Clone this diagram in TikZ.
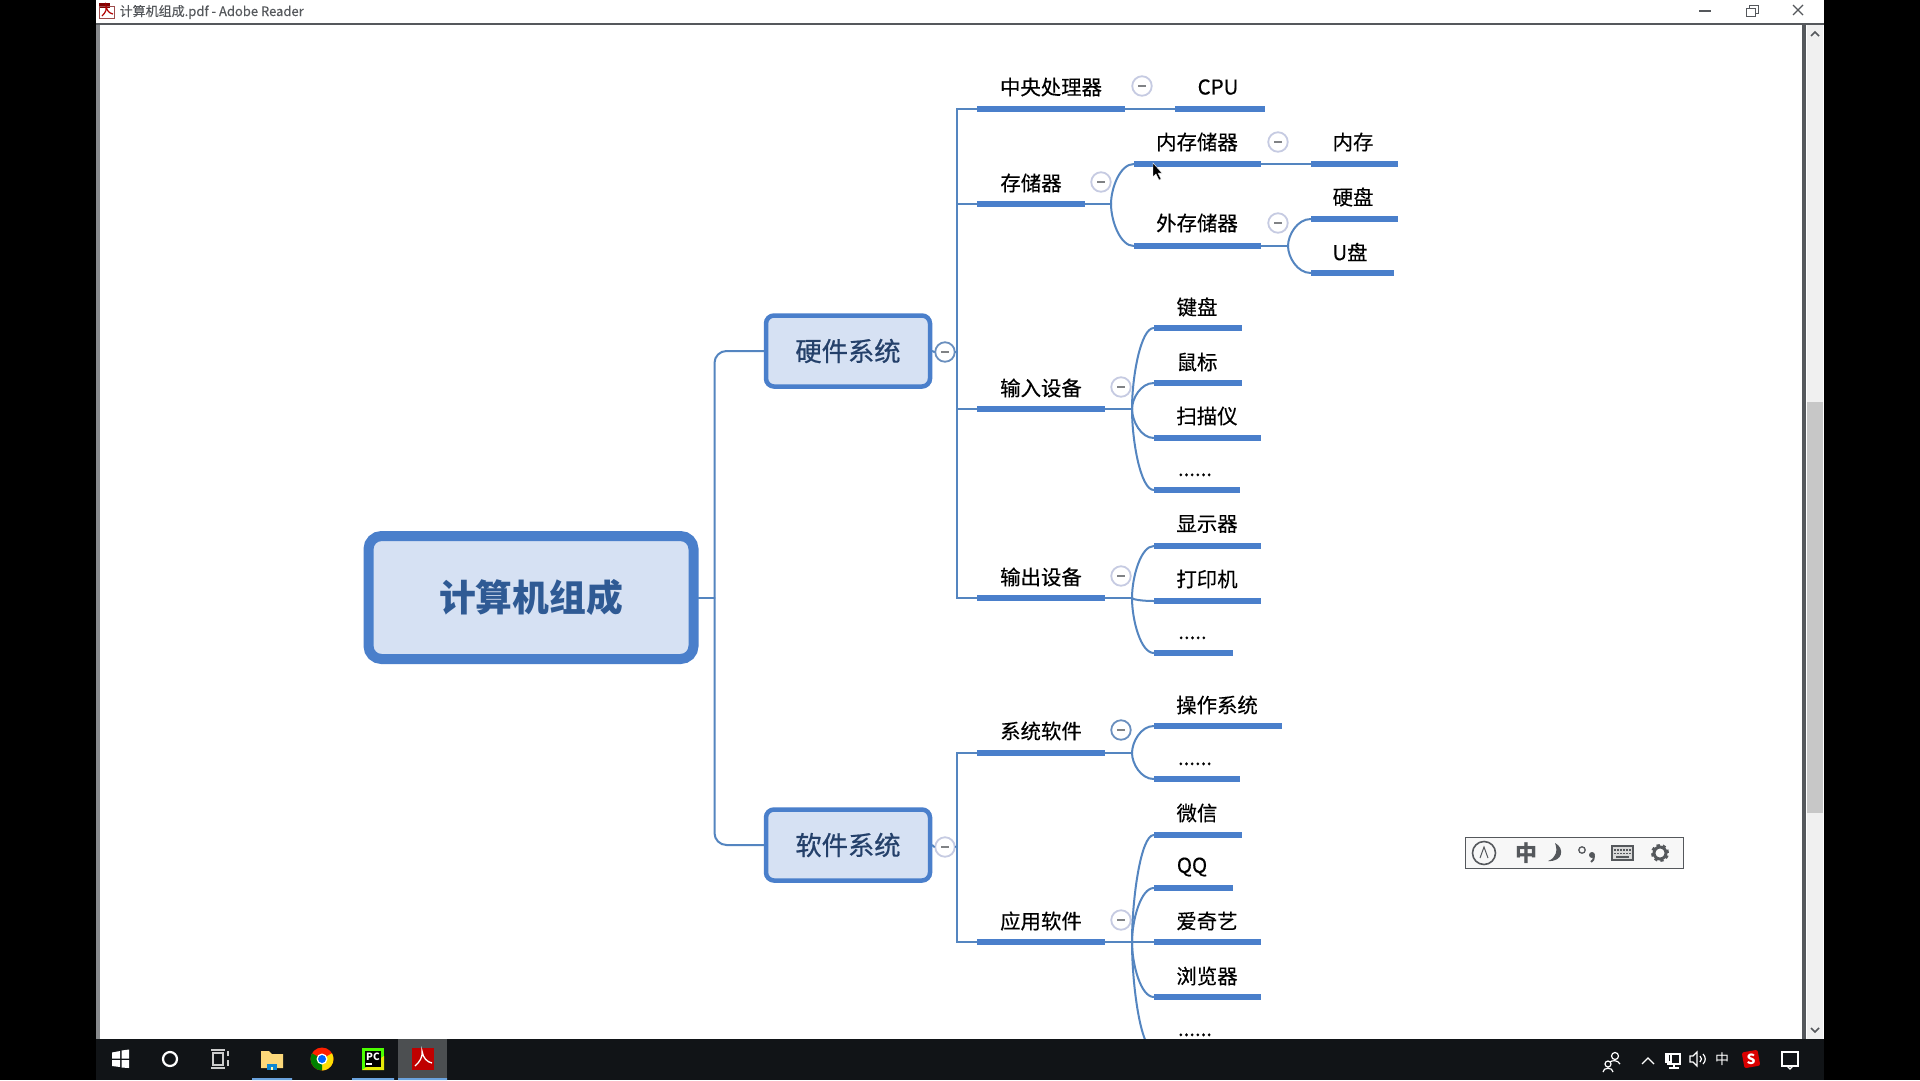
\documentclass[tikz,border=0pt]{standalone}
\usepackage{fontspec}
\usepackage{xcolor}
\setmainfont{Noto Sans CJK SC}
\newfontfamily\labfont[FakeBold=0.3]{Noto Sans CJK SC}
\newfontfamily\boxfont[FakeBold=0.7]{Noto Sans CJK SC}
\usetikzlibrary{calc}
\definecolor{frame}{HTML}{000000}
\definecolor{pagebg}{HTML}{FFFFFF}
\definecolor{barbg}{HTML}{111417}
\definecolor{topic}{HTML}{4A7FCB}
\definecolor{linkc}{HTML}{5485C0}
\definecolor{boxbg}{HTML}{D6E1F3}
\definecolor{hubtxt}{HTML}{2F5A94}
\definecolor{boxtxt}{HTML}{24406A}
\definecolor{faint}{HTML}{C6CBE2}
\definecolor{strong}{HTML}{6A8FBE}
\definecolor{muted}{HTML}{55585C}
\tikzset{
  link/.style={draw=linkc, line width=2pt, line cap=round},
  bar/.style={rectangle, fill=topic, inner sep=0pt, minimum height=6.5pt},
  lab/.style={text=black, font=\labfont\fontsize{20.4}{24}\selectfont, inner sep=0pt},
  hub/.style={draw=topic, fill=boxbg, line width=10pt, rounded corners=13pt, inner sep=0pt,
    text=hubtxt, font=\fontsize{36.8}{42}\bfseries\selectfont},
  sub/.style={draw=topic, fill=boxbg, line width=4.5pt, rounded corners=8pt, inner sep=0pt,
    text=boxtxt, font=\boxfont\fontsize{26.3}{30}\selectfont, minimum width=164pt, minimum height=71pt},
  minus/.style={circle, draw=faint, fill=white, line width=1.8pt, minimum size=19.5pt, inner sep=0pt,
    path picture={\draw[muted!75, line width=1.5pt] ($(path picture bounding box.center)+(-4,0)$) -- +(8,0);}},
  chrome/.style={draw=muted, line width=1.3pt},
  tray/.style={draw=white, line width=1.2pt},
  icon/.style={text=muted, inner sep=0pt},
}
\begin{document}
\begin{tikzpicture}[x=1pt, y=-1pt]
  \useasboundingbox (0,0) rectangle (1920,1080);
  \fill[frame] (0,0) rectangle (1920,1080);
  \fill[pagebg] (96,0) rectangle (1824,1080);
  % window title and scroll bar
  \fill[muted!70] (96,24) rectangle (100,1040);
  \fill[muted] (96,23) rectangle (1824,25);
  \fill[muted] (1802,25) rectangle (1806,1040);
  \fill[black!6] (1807,25) rectangle (1823,1040);
  \fill[black!22] (1807,402) rectangle (1823,813);
  \node[text=muted, font=\labfont\fontsize{13}{16}\selectfont, inner sep=0pt, anchor=west] (title) at (119.5,12) {计算机组成.pdf - Adobe Reader};
  \fill[red!50!black] (99,3) rectangle (110,8);
  \draw[red!45!black!70, line width=1pt] (99,6) rectangle (114,18);
  \draw[red!70!black, line width=1.2pt] (102,16) .. controls (106,12) and (107,9) .. (106,6) .. controls (107,11) and (109,13) .. (113,14);
  \draw[chrome] (1699,11) -- (1711,11);
  \draw[chrome, line width=1pt] (1746,8) rectangle (1755,16) (1749,8) -- (1749,5) -- (1758,5) -- (1758,13) -- (1755,13);
  \draw[chrome, line width=1.1pt] (1793,5) -- (1803,15) (1803,5) -- (1793,15);
  \draw[muted, line width=1.6pt] (1811,36) -- (1815,32) -- (1819,36);
  \draw[muted, line width=1.6pt] (1811,1028) -- (1815,1032) -- (1819,1028);

  % central boxes
  \node[hub, minimum width=325pt, minimum height=123pt] (root) at (531,597.5) {计算机组成};
  \node[sub] (hard) at (848,351) {\raisebox{-3pt}{硬件系统}};
  \node[sub] (soft) at (848,845) {\raisebox{-3pt}{软件系统}};
  \node[minus, draw=strong] (hardM) at (945,352) {};
  \node[minus] (softM) at (945,847) {};

  % topics: name / left / right / y of bar / x of text / y of text / text
  \foreach \nm/\xa/\xb/\yy/\tx/\ty/\lb in {
    cpuU/977/1125/109/1051/87/中央处理器, cpu/1175/1265/109/1218/87/CPU,
    store/977/1085/204/1031/183/存储器, inner/1134/1261/164/1197/142/内存储器,
    outer/1134/1261/246/1197/223/外存储器, ram/1311/1398/164/1353/142/内存,
    disk/1311/1398/219/1353/197/硬盘, udisk/1311/1394/273/1350/252/U盘,
    input/977/1105/409/1041/388/输入设备, keyb/1154/1242/328/1197/307/键盘,
    mouse/1154/1242/383/1197/362/鼠标, scan/1154/1261/438/1207/416/扫描仪,
    output/977/1105/598/1041/577/输出设备, screen/1154/1261/546/1207/524/显示器,
    printer/1154/1261/601/1207/579/打印机,
    sys/977/1105/753/1041/731/系统软件, os/1154/1282/726/1217/705/操作系统,
    app/977/1105/942/1041/921/应用软件, wx/1154/1242/835/1197/813/微信,
    qq/1154/1233/888/1192/867/QQ, iqy/1154/1261/942/1207/921/爱奇艺,
    web/1154/1261/997/1207/976/浏览器}{
    \node[bar, minimum width={(\xb-\xa)*1pt}] (\nm) at ({(\xa+\xb)/2},\yy) {};
    \node[lab] (\nm T) at (\tx,\ty) {\lb};
  }
  % the rows of dots sit on their bars
  \node[bar, minimum width=86pt] (inDots) at (1197,490) {};
  \node[bar, minimum width=79pt] (outDots) at (1193.5,653) {};
  \node[bar, minimum width=86pt] (sysDots) at (1197,779) {};
  \node[bar, minimum width=86pt] (appDots) at (1197,1050) {};
  \node[lab, anchor=base] (inDotsT) at (1195,476) {......};
  \node[lab, anchor=base] (outDotsT) at (1192.5,639) {.....};
  \node[lab, anchor=base] (sysDotsT) at (1195,765) {......};
  \node[lab, anchor=base] (appDotsT) at (1195,1036) {......};

  \foreach \nm/\xx/\yy/\cc in {cpuM/1142/86/faint, storeM/1101/182/faint, innerM/1278/142/faint, outerM/1278/223/faint,
    inputM/1121/387/faint, outputM/1121/576/faint, sysM/1121/730/strong, appM/1121/920/faint}{
    \node[minus, draw=\cc] (\nm) at (\xx,\yy) {};
  }

  % fork points
  \coordinate (rootF) at (714.5,597.5);
  \coordinate (hardF) at (957,352);
  \coordinate (softF) at (957,846);
  \coordinate (storeF) at (1111,204);
  \coordinate (outerF) at (1288,246);
  \coordinate (inputF) at (1132,409);
  \coordinate (outputF) at (1132,598);
  \coordinate (sysF) at (1132,753);
  \coordinate (appF) at (1132,942);

  \draw[link] (root.east) -- (rootF);
  \draw[link, rounded corners=12pt] (hard.west) -| (rootF) |- (soft.west);
  \draw[link] (hard.east) -- (hardM.west) (hardM.east) -- (hardF);
  \draw[link] (soft.east) -- (softM.west) (softM.east) -- (softF);
  \draw[link] (cpuU.west) -| (input.west -| hardF) |- (output.west);
  \draw[link] (store.west) -- (store.west -| hardF) (input.west) -- (input.west -| hardF);
  \draw[link] (sys.west) -| (softF) |- (app.west);
  \draw[link] (cpuU.east) -- (cpu.west);
  \draw[link] (inner.east) -- (ram.west);
  \draw[link] (store.east) -- (storeF);
  \draw[link] (outer.east) -- (outerF);
  \draw[link] (input.east) -- (inputF);
  \draw[link] (output.east) -- (outputF);
  \draw[link] (sys.east) -- (sysF);
  \draw[link] (app.east) -- (iqy.west);

  \foreach \fk/\ch in {storeF/inner, storeF/outer, outerF/disk, outerF/udisk,
    inputF/keyb, inputF/mouse, inputF/scan, inputF/inDots,
    outputF/screen, outputF/printer, outputF/outDots,
    sysF/os, sysF/sysDots, appF/wx, appF/qq, appF/web, appF/appDots}{
    \draw[link] (\fk) .. controls ($(\fk)!0.4!(\fk |- \ch.west)$) and ($(\fk |- \ch.west)!0.4!(\ch.west)$) .. (\ch.west);
  }

  % cursor
  \fill[black, draw=white, line width=0.4pt] (1153,163) -- (1153,177) -- (1156,174) -- (1159,180) -- (1161,179) -- (1158,173) -- (1162,173) -- cycle;

  % input method bar
  \draw[fill=black!3, draw=muted, line width=1pt] (1465,837) rectangle (1683,868);
  \draw[muted, line width=1.6pt] (1484,853) circle (11.5pt);
  \draw[muted, line width=1pt] (1480,858) -- (1484,847) -- (1488,858);
  \node[icon, font=\fontsize{22}{24}\bfseries\selectfont] (imeZh) at (1526,853) {中};
  \fill[muted, even odd rule] (1555,843) .. controls (1565,848) and (1563,862) .. (1548,861) .. controls (1556,858) and (1558,851) .. (1555,843);
  \draw[muted, line width=1.3pt] (1582,850) circle (3.2pt);
  \fill[muted] (1592,855) circle (3pt);
  \draw[muted, line width=2pt] (1594,856) .. controls (1594,859) and (1593,861) .. (1591,862);
  \draw[muted, fill=black!15, line width=1.2pt] (1612,846) rectangle (1633,860);
  \draw[muted, line width=1.4pt, dash pattern=on 2pt off 1pt] (1614,850) -- (1631,850) (1614,853.5) -- (1631,853.5);
  \draw[muted, line width=1.4pt] (1616,857) -- (1629,857);
  \draw[muted, line width=3pt, dash pattern=on 3pt off 2.9pt] (1660,853) circle (7.5pt);
  \draw[muted, line width=3pt] (1660,853) circle (6pt);

  % task bar
  \fill[barbg] (96,1039) rectangle (1824,1080);
  \fill[white!25!barbg] (398,1039) rectangle (447,1080);
  \fill[cyan!60!blue!60!white] (252,1078) rectangle (292,1080) (352,1078) rectangle (394,1080) (398,1078) rectangle (447,1080);
  % start button
  \fill[white] (112,1052.5) -- (120,1051) -- (120,1058.5) -- (112,1058.5) -- cycle
    (121.5,1050.5) -- (129,1049.5) -- (129,1058.5) -- (121.5,1058.5) -- cycle
    (112,1060) -- (120,1060) -- (120,1067) -- (112,1066) -- cycle
    (121.5,1060) -- (129,1060) -- (129,1068) -- (121.5,1067.5) -- cycle;
  \draw[white, line width=2.2pt] (170,1059) circle (7pt);
  \draw[white!80!black, line width=1.6pt] (213,1053) rectangle (223,1065) (211,1050) -- (225,1050) (211,1068) -- (225,1068) (228,1051) -- (228,1056) (228,1060) -- (228,1066);
  % folder
  \fill[yellow!45!orange!50!white] (261,1051) -- (269,1051) -- (272,1054) -- (283,1054) -- (283,1068) -- (261,1068) -- cycle;
  \fill[cyan!70!blue] (267,1064) rectangle (277,1070);
  \fill[yellow!30!white] (271,1067) rectangle (273,1070);
  % chrome
  \fill[red!75!orange] (322,1059) circle (11.5pt);
  \fill[yellow!80!orange] (322,1059) -- (332,1053.25) arc (30:-90:11.5pt) -- cycle;
  \fill[green!50!black] (322,1059) -- (322,1070.5) arc (-90:-210:11.5pt) -- cycle;
  \fill[white] (322,1059) circle (5.5pt);
  \fill[blue!60!cyan] (322,1059) circle (4pt);
  % pycharm
  \fill[green!70!yellow] (362,1048) rectangle (384,1070);
  \fill[yellow!90!green] (362,1070) -- (384,1070) -- (384,1056) -- cycle;
  \fill[black] (365,1051) rectangle (381,1067);
  \node[text=white, font=\fontsize{10}{10}\bfseries\selectfont, inner sep=0pt] (pcIcon) at (373,1056.5) {PC};
  \fill[white] (366,1063) rectangle (372,1064.5);
  % reader
  \fill[red!75!black] (412,1048) rectangle (434,1070);
  \draw[white, line width=1.3pt] (415,1066) .. controls (420,1062) and (423,1056) .. (422,1051) .. controls (423,1058) and (427,1062) .. (432,1063);
  % tray
  \draw[tray] (1608,1064) circle (3pt) (1603,1072) .. controls (1603,1067) and (1613,1067) .. (1613,1072);
  \draw[tray] (1615,1056) circle (3.5pt) (1610,1062) .. controls (1612,1060) and (1618,1060) .. (1620,1064);
  \draw[tray] (1642,1064) -- (1648,1058) -- (1654,1064);
  \draw[tray] (1668,1054) rectangle (1680,1064) (1674,1064) -- (1674,1068) (1669,1068) -- (1679,1068) (1666,1054) rectangle (1671,1062);
  \draw[tray] (1690,1056) -- (1693,1056) -- (1697,1052) -- (1697,1066) -- (1693,1062) -- (1690,1062) -- cycle;
  \draw[tray] (1700,1056) .. controls (1702,1058) and (1702,1060) .. (1700,1062) (1703,1054) .. controls (1706,1057) and (1706,1061) .. (1703,1064);
  \node[text=white, font=\fontsize{14}{16}\selectfont, inner sep=0pt] (trayZh) at (1722,1059) {中};
  \fill[red!85!black, rounded corners=2pt, rotate around={10:(1751,1059)}] (1743,1051) rectangle (1759,1067);
  \node[text=white, font=\fontsize{14}{14}\bfseries\selectfont, inner sep=0pt] (traySg) at (1751,1059) {S};
  \draw[tray] (1782,1052) rectangle (1798,1066) ;
  \draw[tray] (1787,1066) -- (1790,1069) -- (1793,1066);
\end{tikzpicture}
\end{document}
